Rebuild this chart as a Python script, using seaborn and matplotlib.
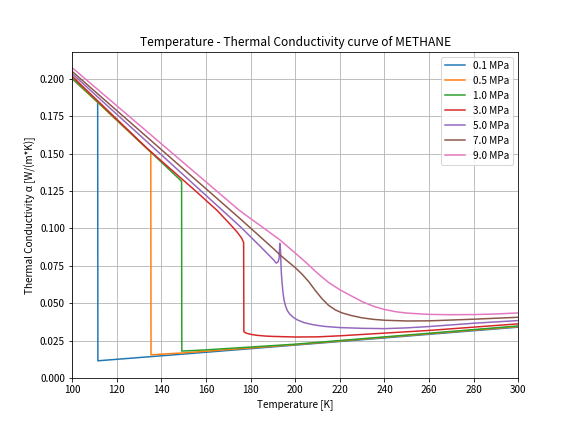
import pandas as pd
import matplotlib
matplotlib.use('Agg')
import matplotlib.pyplot as plt
import seaborn as sns

# Temperature [K] and thermal conductivity [W/(m*K)]
t_01 = [100, 111.5, 111.6, 150, 200, 250, 300]
k_01 = [0.2000, 0.1845, 0.0115, 0.0160, 0.0220, 0.0280, 0.0340]

t_05 = [100, 120, 135.3, 135.4, 150, 200, 250, 300]
k_05 = [0.2003, 0.1723, 0.1510, 0.0155, 0.0168, 0.0223, 0.0284, 0.0344]

t_10 = [100, 125, 149.1, 149.2, 160, 200, 250, 300]
k_10 = [0.2007, 0.1655, 0.1315, 0.0180, 0.0188, 0.0226, 0.0287, 0.0348]

t_30 = [100, 134, 155, 165, 171, 174, 176, 176.9,
        177.0, 178, 180, 183, 187, 190, 200, 210, 220, 240, 260, 280, 300]
k_30 = [0.2018, 0.1530, 0.1255, 0.1120, 0.1025, 0.0975, 0.0935, 0.0905,
        0.0310, 0.0300, 0.0292, 0.0285, 0.0280, 0.0278, 0.0274, 0.0275, 0.0282,
        0.0300, 0.0318, 0.0340, 0.0362]

t_50 = [100, 175.3, 184, 190.3, 191.5, 192.3, 192.8, 193.1, 193.4, 193.6,
        193.8, 194.1, 194.5, 195, 195.7, 196.5, 197.5, 199, 201, 204, 208, 213,
        220, 230, 240, 250, 260, 280, 300]
k_50 = [0.2035, 0.1013, 0.0885, 0.0790, 0.0768, 0.0775, 0.0800, 0.0900,
        0.0860, 0.0770, 0.0700, 0.0640, 0.0575, 0.0520, 0.0480, 0.0450, 0.0428,
        0.0407, 0.0388, 0.0370, 0.0356, 0.0345, 0.0337, 0.0332, 0.0330, 0.0335,
        0.0344, 0.0366, 0.0384]

t_70 = [100, 175.3, 190.3, 193.4, 197, 200, 203, 206, 209, 212, 215, 218,
        221, 225, 230, 235, 240, 250, 260, 280, 300]
k_70 = [0.2050, 0.1065, 0.0864, 0.0820, 0.0775, 0.0738, 0.0695, 0.0645,
        0.0585, 0.0530, 0.0485, 0.0455, 0.0435, 0.0418, 0.0402, 0.0392, 0.0386,
        0.0381, 0.0382, 0.0393, 0.0406]

t_90 = [100, 175, 193, 200, 205, 210, 215, 220, 225, 230, 235, 240, 245,
        250, 260, 270, 280, 290, 300]
k_90 = [0.2075, 0.1120, 0.0925, 0.0835, 0.0770, 0.0700, 0.0638, 0.0590,
        0.0550, 0.0510, 0.0480, 0.0458, 0.0443, 0.0434, 0.0425, 0.0423, 0.0424,
        0.0428, 0.0435]

labels = ['0.1 MPa', '0.5 MPa', '1.0 MPa', '3.0 MPa', '5.0 MPa', '7.0 MPa', '9.0 MPa']
temps = [t_01, t_05, t_10, t_30, t_50, t_70, t_90]
conds = [k_01, k_05, k_10, k_30, k_50, k_70, k_90]

rows = []
for lab, ts, ks in zip(labels, temps, conds):
    for t, k in zip(ts, ks):
        rows.append({'Pressure': lab, 'T': t, 'k': k})
df = pd.DataFrame(rows)

plt.rcParams['font.family'] = ['Noto Sans CJK JP', 'DejaVu Sans']

fig, ax = plt.subplots(figsize=(8, 6), dpi=72)
fig.subplots_adjust(bottom=0.125)

sns.lineplot(data=df, x='T', y='k', hue='Pressure', palette='tab10',
             sort=False, estimator=None, linewidth=1.5, ax=ax)

ax.set_xlim(100, 300)
ax.set_xticks(range(100, 301, 20))
ax.set_ylim(0, 0.218)
ax.set_yticks([0.0, 0.025, 0.05, 0.075, 0.1, 0.125, 0.15, 0.175, 0.2])
ax.set_yticklabels(['0.000', '0.025', '0.050', '0.075', '0.100', '0.125',
                    '0.150', '0.175', '0.200'])
ax.grid(True)
ax.set_title('Temperature - Thermal Conductivity curve of METHANE')
ax.set_xlabel('Temperature [K]')
ax.set_ylabel('Thermal Conductivity α [W/(m*K)]')
ax.legend(loc='upper right')

plt.savefig('out.png', dpi=72)
